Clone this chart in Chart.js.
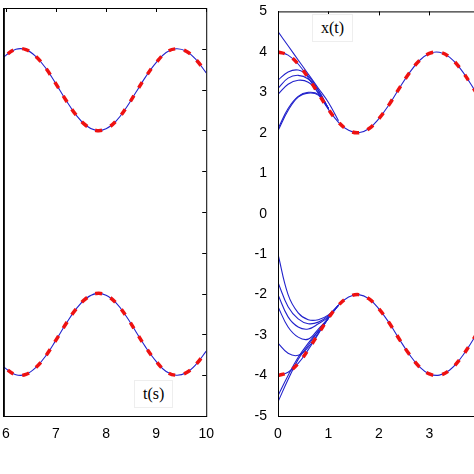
<!DOCTYPE html>
<html><head><meta charset="utf-8">
<script src="https://cdn.jsdelivr.net/npm/chart.js@4/dist/chart.umd.min.js"></script>
<style>
body{margin:0;width:474px;height:474px;overflow:hidden;position:relative;background:#fff}
canvas{position:absolute;top:0}
.lbl{position:absolute;font-family:"Liberation Serif",serif;font-size:16px;background:#fff;padding:4px 8px;border:1px solid #eee}
</style></head><body>
<canvas id="left" style="left:0px" width="216" height="474"></canvas>
<canvas id="right" style="left:250px" width="260" height="474"></canvas>
<div class="lbl" style="left:134px;top:380px">t(s)</div>
<div class="lbl" style="left:312px;top:14px">x(t)</div>
<script>
// left panel, t = 5.8 .. 10 step 0.2
const tLeft = [5.8,6,6.2,6.4,6.6,6.8,7,7.2,7.4,7.6,7.8,8,8.2,8.4,8.6,8.8,9,9.2,9.4,9.6,9.8,10];
const upLeft = [3.61,3.84,3.99,3.98,3.81,3.52,3.14,2.74,2.38,2.12,2.00,2.04,2.23,2.55,2.94,3.33,3.66,3.91,4.00,3.94,3.73,3.41];
const lowLeft = upLeft.map(v => -v);
// right panel, t = 0 .. 4.4 step 0.2
const tRight = [0,0.2,0.4,0.6,0.8,1,1.2,1.4,1.6,1.8,2,2.2,2.4,2.6,2.8,3,3.2,3.4,3.6,3.8,4,4.2,4.4];
const upRight = [4,3.92,3.70,3.36,2.97,2.58,2.26,2.06,2.00,2.10,2.35,2.69,3.09,3.47,3.78,3.96,3.99,3.87,3.61,3.25,2.85,2.48,2.19];
const lowRight = upRight.map(v => -v);
// blue transients from other initial conditions (t = 0 .. step 0.2)
const transients = [
  [4.5,4.15,3.8,3.45,3.1,2.75,2.3],
  [3.3,3.5,3.55,3.4,3.05,2.6],
  [3.1,3.35,3.42,3.33,3.05,2.6],
  [2.95,3.2,3.3,3.25,3.0,2.6],
  [2.1,2.6,2.9,3.0,2.95,2.6],
  [2.05,2.55,2.88,2.98,2.93,2.6],
  [-1,-2.0,-2.45,-2.62,-2.62,-2.5,-2.26],
  [-1.7,-2.3,-2.6,-2.72,-2.68,-2.52,-2.26],
  [-2.0,-2.55,-2.8,-2.85,-2.72,-2.55,-2.26],
  [-2.3,-2.8,-3.05,-3.1,-2.85,-2.58,-2.26],
  [-3.2,-3.45,-3.5,-3.3,-2.95,-2.58],
  [-4.5,-4.0,-3.55,-3.2,-2.9,-2.58],
  [-4.65,-4.1,-3.6,-3.25,-2.9,-2.58]
];

const pts = (ts, ys) => ys.map((y, i) => ({x: ts[i], y: y}));
const blue = d => ({data: d, borderColor: '#2222cc', borderWidth: 1.1, pointRadius: 0, tension: 0.4});
const red = d => ({data: d, borderColor: '#ee1111', borderWidth: 3.5, borderDash: [7, 9], pointRadius: 0, tension: 0.4});
const font = {family: 'Liberation Sans', size: 14};

// box around the plot area with inward ticks
const frame = {
  id: 'frame',
  afterDraw(chart) {
    const {ctx, chartArea: a, scales} = chart;
    ctx.save();
    ctx.strokeStyle = '#000';
    ctx.lineWidth = 1;
    ctx.strokeRect(a.left + 0.5, a.top + 0.5, a.right - a.left, a.bottom - a.top);
    ctx.beginPath();
    scales.y.ticks.forEach(t => {
      const y = Math.round(scales.y.getPixelForValue(t.value)) + 0.5;
      ctx.moveTo(a.right - 4, y); ctx.lineTo(a.right, y);
    });
    scales.x.ticks.forEach(t => {
      const x = Math.round(scales.x.getPixelForValue(t.value)) + 0.5;
      ctx.moveTo(x, a.top); ctx.lineTo(x, a.top + 4);
    });
    ctx.stroke();
    ctx.restore();
  }
};

function makeChart(id, xmin, xmax, sets, showY) {
  new Chart(document.getElementById(id), {
    type: 'line',
    data: {datasets: sets},
    plugins: [frame],
    options: {
      responsive: false, animation: false,
      layout: {padding: {top: 8, right: showY ? 0 : 7}},
      plugins: {legend: {display: false}, tooltip: {enabled: false}},
      scales: {
        x: {type: 'linear', min: xmin, max: xmax,
          grid: {display: false},
          border: {color: '#000'},
          afterBuildTicks: s => {
            const t = [];
            for (let v = Math.ceil(s.min); v <= s.max; v++) t.push({value: v});
            s.ticks = t;
          },
          ticks: {color: '#000', font: font, padding: 2},
          afterFit: s => { s.height = 58; }},
        y: {min: -5, max: 5, display: true,
          grid: {display: false},
          border: {color: '#000'},
          ticks: {stepSize: 1, color: '#000', font: font, display: showY},
          afterFit: s => { s.width = showY ? 28 : 0; }}
      }
    }
  });
}

makeChart('left', 5.96, 10, [
  red(pts(tLeft, upLeft)), red(pts(tLeft, lowLeft)),
  blue(pts(tLeft, upLeft)), blue(pts(tLeft, lowLeft))
], false);

makeChart('right', 0, 4.6, [
  red(pts(tRight, upRight)), red(pts(tRight, lowRight)),
  ...transients.map(tr => blue(pts(tRight, tr))),
  blue(pts(tRight, upRight)), blue(pts(tRight, lowRight))
], true);
</script>
</body></html>
